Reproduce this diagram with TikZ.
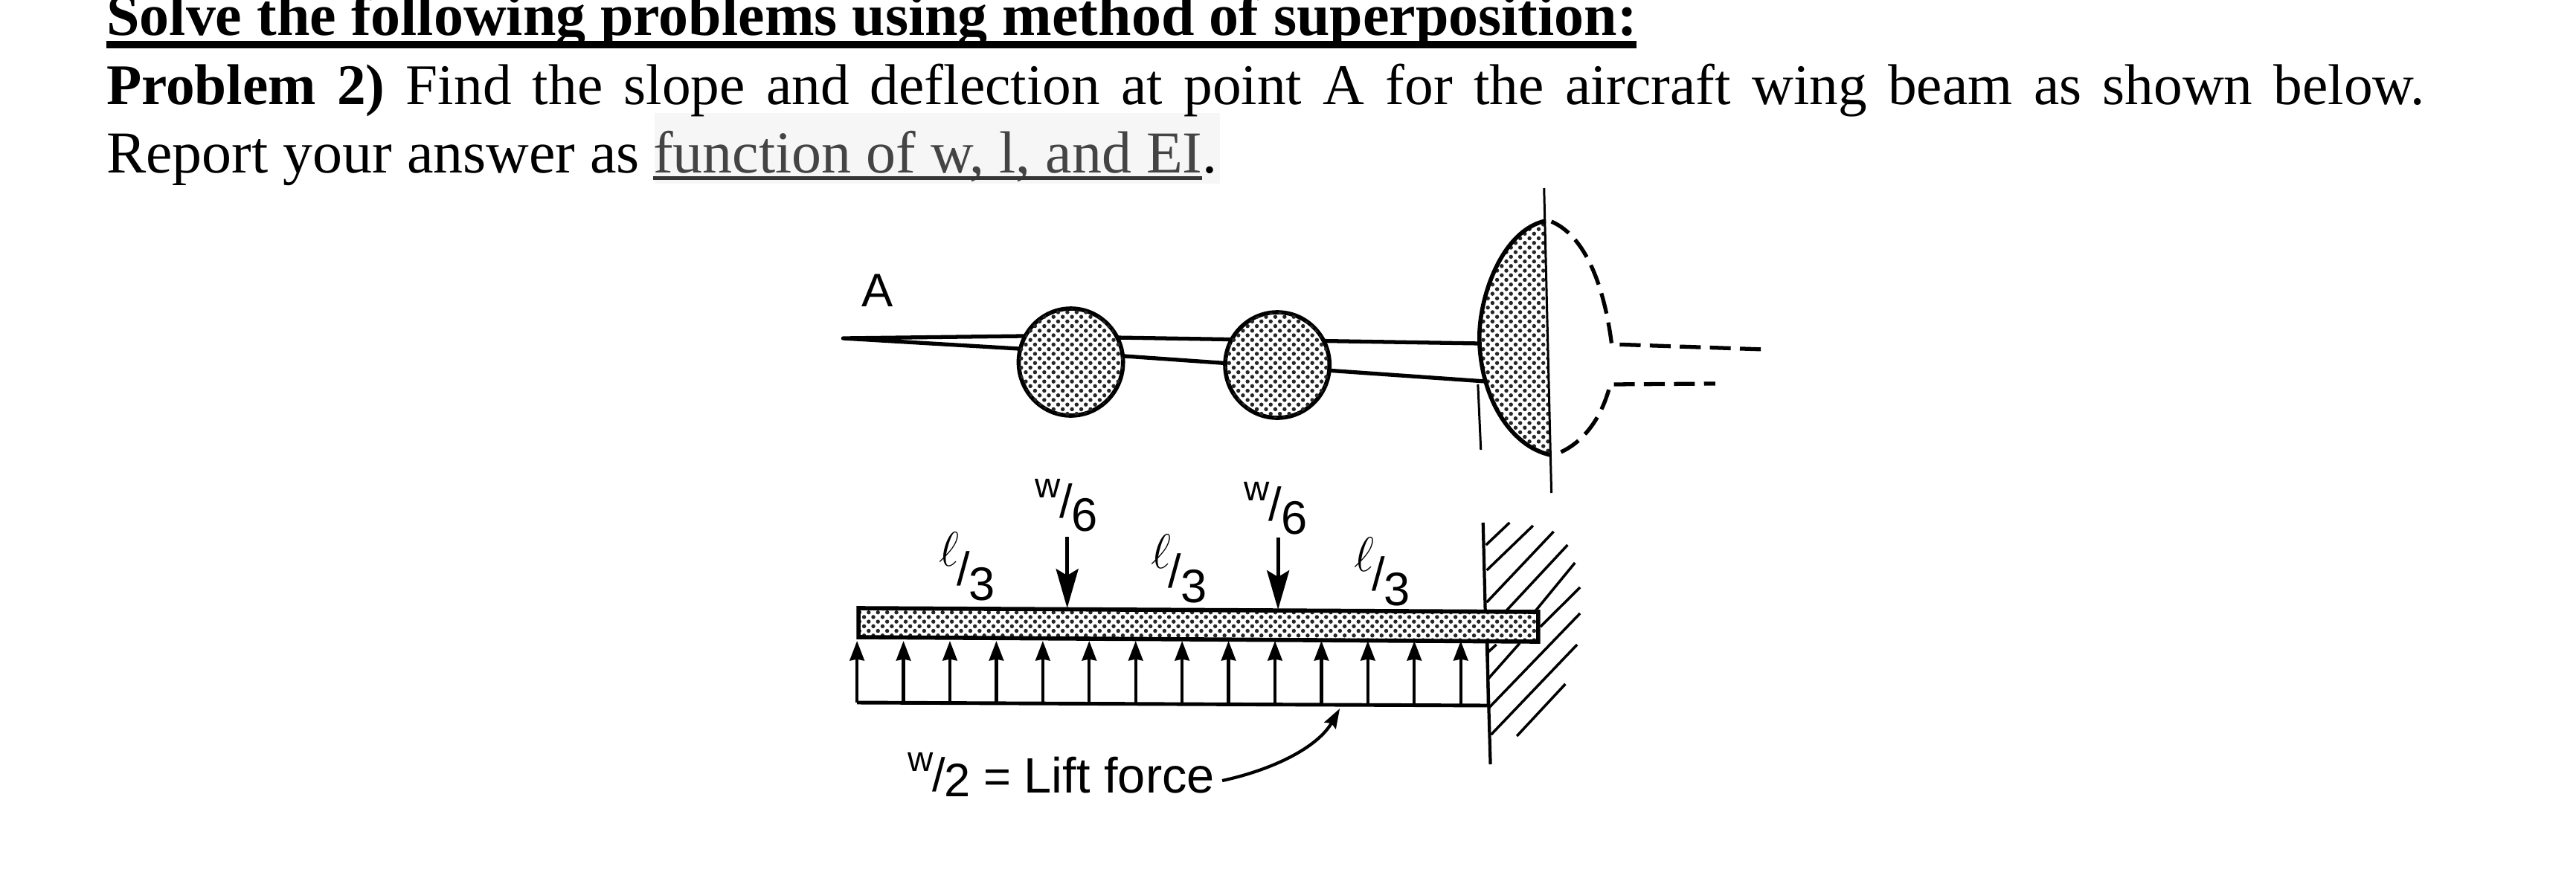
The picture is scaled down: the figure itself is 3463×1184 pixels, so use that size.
\documentclass[tikz,border=0pt]{standalone}
\usepackage{fontspec}
\setmainfont{Liberation Serif}
\newfontfamily\lblfont{Liberation Sans}
\usetikzlibrary{arrows.meta,patterns.meta}
\definecolor{fadedtext}{HTML}{444444}
\definecolor{pastebg}{HTML}{F6F6F6}
\newcommand\tiltfrac[2]{\raisebox{.45em}{\fontsize{27}{27}\selectfont #1}\kern-.02em\raisebox{.02em}{/}\kern-.02em\raisebox{-.26em}{#2}}
\newcommand\tiltell[1]{\raisebox{.3em}{\scalebox{1.5}{$\ell$}}\kern-.05em\raisebox{-.1em}{/}\kern-.02em\raisebox{-.42em}{#1}}
\tikzset{
  bodytext/.style={anchor=base west,inner sep=0pt,outer sep=0pt,font=\fontsize{45.5}{50}\selectfont},
  probtext/.style={anchor=base west,inner sep=0pt,outer sep=0pt,font=\fontsize{44}{50}\selectfont},
  lbl/.style={inner sep=0pt,font=\lblfont\fontsize{36}{40}\selectfont},
  thickline/.style={line width=3.2pt,black},
  wingline/.style={line width=3pt,black},
  thinline/.style={line width=1.7pt,black},
  hatchline/.style={line width=2pt,black},
  dashline/.style={line width=3pt,black,dash pattern=on 16pt off 7pt},
  stipple/.style={pattern={Dots[radius=1.55pt,distance=5pt,angle=45]},pattern color=black!85},
  bigarrow/.style={line width=3pt,-{Stealth[length=30pt,width=17pt,inset=5pt]}},
  liftarrow/.style={line width=2.4pt,-{Stealth[length=15pt,width=10pt,inset=2pt]}},
}
\begin{document}
\begin{tikzpicture}[x=0.02cm,y=-0.02cm]
\useasboundingbox (0,0) rectangle (3463,1184);
\clip (0,0) rectangle (3463,1184);
\fill[white] (0,0) rectangle (3463,1184);
\fill[pastebg] (880,152) rectangle (1640,247);

% text
\node[anchor=base west,inner sep=0pt] (head) at (143,47) {\resizebox{1171pt}{!}{\fontsize{44}{50}\selectfont\bfseries Solve the following problems using method of superposition:}};
\fill (143,55) rectangle (2200,65);
\node[probtext] (prob) at (143,140) {\makebox[1774pt][s]{\textbf{Problem 2)} Find the slope and deflection at point A for the aircraft wing beam as shown below.}};
\node[bodytext] (rep) at (143,232) {Report your answer as};
\node[bodytext,text=fadedtext] (func) at (878,232) {function of w, l, and EI};
\node[bodytext] (dot) at (func.base east) {.};
\fill[fadedtext!80!black] (878,237) rectangle (1616,242);

\begin{scope}[x=0.01976cm,xshift=0.264cm]
% top view
\coordinate (tip) at (1134,455);
\coordinate (upR) at (2002,462);
\coordinate (loR) at (2008,513);
\draw[wingline,line join=round] (upR) -- (1380,452) -- (tip) -- (1373,469) -- (loR);
\draw[thickline,fill=white] (1444,487) ellipse [x radius=71,y radius=72];
\fill[stipple] (1444,487) ellipse [x radius=71,y radius=72];
\draw[thickline,fill=white] (1725,491) ellipse [x radius=71,y radius=71];
\fill[stipple] (1725,491) ellipse [x radius=71,y radius=71];
\path[fill=white] (2090,297) .. controls (2030,310) and (2000,400) .. (2000,453) .. controls (2000,530) and (2040,600) .. (2097,612) -- cycle;
\fill[stipple] (2090,297) .. controls (2030,310) and (2000,400) .. (2000,453) .. controls (2000,530) and (2040,600) .. (2097,612) -- cycle;
\draw[thickline] (2090,297) .. controls (2030,310) and (2000,400) .. (2000,453) .. controls (2000,530) and (2040,600) .. (2097,612);
\draw[thinline] (2088,253) -- (2098,663);
\draw[thinline] (1998,517) -- (2002,605);
\draw[dashline] (2098,298) .. controls (2150,320) and (2172,400) .. (2180,463) -- (2388,470);
\draw[dashline] (2111,608) .. controls (2150,590) and (2170,550) .. (2178,517) -- (2321,516);
\node[lbl] (A) at (1181,391) {A};

% beam
\fill[white] (1155,818) -- (2080,823) -- (2080,863) -- (1155,857) -- cycle;
\fill[stipple] (1155,818) -- (2080,823) -- (2080,863) -- (1155,857) -- cycle;
\draw[thickline] (1155,818) -- (2080,823) -- (2080,863) -- (1155,857) -- cycle;

% wall and hatching
\draw[hatchline,line width=2.4pt] (2005,703) -- (2008,822);
\draw[hatchline,line width=2.4pt] (2010,860) -- (2015,1028);
\draw[hatchline] (2009,733) -- (2041,703);
\draw[hatchline] (2010,767) -- (2073,707);
\draw[hatchline] (2010,810) -- (2101,715);
\draw[hatchline] (2037,821) -- (2120,733);
\draw[hatchline] (2076,822) -- (2130,757);
\draw[hatchline] (2083,843) -- (2137,790);
\draw[hatchline] (2012,877) -- (2023,867);
\draw[hatchline] (2012,913) -- (2055,865);
\draw[hatchline] (2012,953) -- (2137,825);
\draw[hatchline] (2016,988) -- (2133,867);
\draw[hatchline] (2051,990) -- (2117,920);

% lift load
\draw[line width=2.8pt] (1153,945) -- (2013,949);
\foreach \i in {0,...,13}{
  \draw[line width=2.4pt,-{Stealth[length=15pt,width=11pt,inset=1pt]}] ({1153+\i*63.2},{945+\i*0.3}) -- ({1153+\i*63.2},862);
}
\draw[line width=2.2pt] (2011,860) -- (2012,948);

% point loads
\coordinate (p1) at (1439,818);
\coordinate (p2) at (1726,820);
\draw[bigarrow] (1439,722) -- (p1);
\draw[bigarrow] (1726,723) -- (p2);

% labels
\node[lbl] (w1) at (1438,680) {\tiltfrac{w}{6}};
\node[lbl] (w2) at (1723,684) {\tiltfrac{w}{6}};
\node[lbl] (l1) at (1303,762) {\tiltell{3}};
\node[lbl] (l2) at (1591,765) {\tiltell{3}};
\node[lbl] (l3) at (1868,769) {\tiltell{3}};
\node[lbl,anchor=base east] (lift) at (1640,1066) {\raisebox{.45em}{\fontsize{27}{27}\selectfont w}\kern-.02em\raisebox{.02em}{/}\kern-.02em\raisebox{-.08em}{2} = {\fontsize{38}{40}\selectfont Lift force}};
\coordinate (liftstart) at (1650,1050);
\coordinate (liftend) at (1810,953);
\draw[liftarrow] (liftstart) .. controls (1720,1035) and (1780,1005) .. (liftend);
\end{scope}
\end{tikzpicture}
\end{document}
